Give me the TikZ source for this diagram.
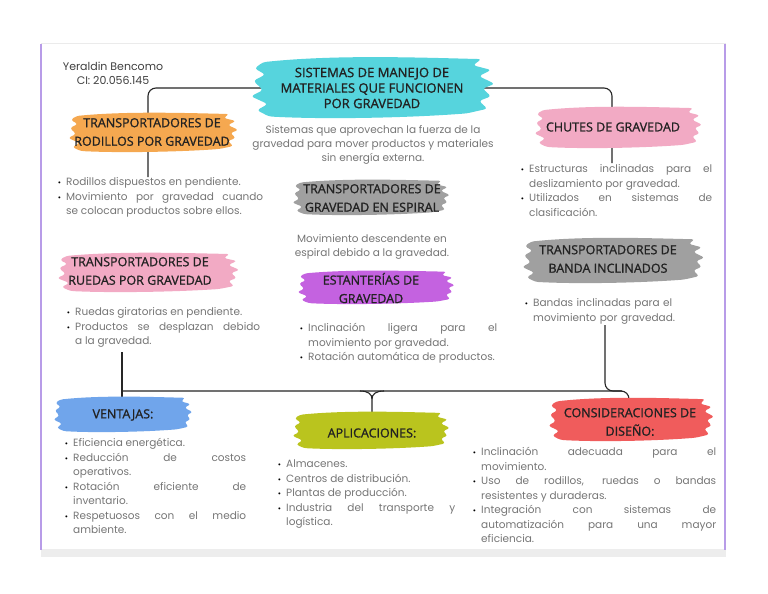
\documentclass[tikz,border=0pt]{standalone}
\usepackage{fontspec}
\setmainfont{Poppins}
\newfontfamily\headfont[BoldFont={Open Sans}, BoldFeatures={FakeBold=1.2}]{Open Sans}
\usepackage{graphicx}
\usepackage{enumitem}
\usetikzlibrary{calc}

\definecolor{titlecol}{RGB}{86,212,221}
\definecolor{rodcol}{RGB}{245,168,80}
\definecolor{pinkcol}{RGB}{242,170,196}
\definecolor{graycol}{RGB}{160,160,160}
\definecolor{purplecol}{RGB}{196,98,224}
\definecolor{bluecol}{RGB}{112,165,235}
\definecolor{olivecol}{RGB}{186,196,30}
\definecolor{redcol}{RGB}{240,92,92}
\definecolor{framecol}{RGB}{184,156,232}
\definecolor{headtxt}{RGB}{34,34,34}
\definecolor{bodytxt}{RGB}{118,118,118}

\setlist[itemize]{nosep,leftmargin=11pt,labelsep=5pt,label={\color{black}\scalebox{0.75}{\textbullet}}}

\pgfdeclarelayer{lines}
\pgfdeclarelayer{paint}
\pgfsetlayers{lines,paint,main}

\tikzset{
	heading/.style={font=\headfont\bfseries\fontsize{12.5}{18.5}\selectfont, text=headtxt, align=center, inner sep=0pt},
	desc/.style={font=\fontsize{10.5}{14}\selectfont, text=bodytxt, align=center, inner sep=0pt},
	bullets/.style={font=\fontsize{10.5}{14.5}\selectfont, text=bodytxt, align=justify, inner sep=0pt, anchor=north west},
	conn/.style={draw=black!85, line width=1.1pt, rounded corners=8pt},
	brush/.pic={
		\fill[pic actions, rounded corners=3pt] (-0.9,-0.8) .. controls (-0.3,-1.05) and (0.4,-0.95) .. (0.92,-0.9)
			-- (0.85,-0.7) -- (1.0,-0.55) -- (0.9,-0.35) -- (1.03,-0.1) -- (0.93,0.05) -- (1.0,0.3)
			-- (0.9,0.45) -- (0.97,0.7) -- (0.8,0.85)
			.. controls (0.3,1.0) and (-0.4,1.05) .. (-0.85,0.95)
			-- (-0.95,0.75) -- (-0.86,0.55) -- (-1.0,0.3) -- (-0.9,0.1) -- (-0.98,-0.2)
			-- (-0.88,-0.4) -- (-0.97,-0.6) -- cycle;
	}
}

\begin{document}
\begin{tikzpicture}[x=1pt, y=-1pt]
	\useasboundingbox (0,0) rectangle (768,594);
	\begin{pgfonlayer}{lines}
		\fill[white] (0,0) rectangle (768,594);
		\fill[black!7] (41,549) rectangle (726,557);
		\draw[black!8, line width=1pt] (41,44) -- (726,44);
		\draw[framecol, line width=1.6pt] (41,44) -- (41,550) (725,44) -- (725,550);
	\end{pgfonlayer}

	% headings and texts
	\node[desc, text=black!75, font=\fontsize{11}{14}\selectfont] (author) at (113,73) {Yeraldin Bencomo\\CI: 20.056.145};
	\node[heading, font=\headfont\bfseries\fontsize{13}{15.5}\selectfont] (title) at (372,88) {SISTEMAS DE MANEJO DE\\MATERIALES QUE FUNCIONEN\\POR GRAVEDAD};
	\node[desc] (titledesc) at (373,145) {Sistemas que aprovechan la fuerza de la\\gravedad para mover productos y materiales\\sin energía externa.};

	\node[heading] (rod) at (152,132) {TRANSPORTADORES DE\\RODILLOS POR GRAVEDAD};
	\node[bullets, text width=208pt] (rodlist) at (55,171) {\begin{itemize}
		\item Rodillos dispuestos en pendiente.
		\item Movimiento por gravedad cuando\linebreak se colocan productos sobre ellos.
	\end{itemize}};

	\node[heading] (chutes) at (613,127) {CHUTES DE GRAVEDAD};
	\node[bullets, text width=194pt] (chuteslist) at (518,158) {\begin{itemize}
		\item Estructuras inclinadas para el\linebreak deslizamiento por gravedad.
		\item Utilizados en sistemas de\linebreak clasificación.
	\end{itemize}};

	\node[heading] (spiral) at (372,198) {TRANSPORTADORES DE\\GRAVEDAD EN ESPIRAL};
	\node[desc] (spiraldesc) at (372,247) {Movimiento descendente en\\espiral debido a la gravedad.};

	\node[heading] (estant) at (371,288) {ESTANTERÍAS DE\\GRAVEDAD};
	\node[bullets, text width=200pt] (estantlist) at (297,317) {\begin{itemize}
		\item Inclinación ligera para el\linebreak movimiento por gravedad.
		\item Rotación automática de productos.
	\end{itemize}};

	\node[heading] (ruedas) at (140,271) {TRANSPORTADORES DE\\RUEDAS POR GRAVEDAD};
	\node[bullets, text width=196pt] (ruedaslist) at (64,301) {\begin{itemize}
		\item Ruedas giratorias en pendiente.
		\item Productos se desplazan debido\linebreak a la gravedad.
	\end{itemize}};

	\node[heading] (banda) at (608,259) {TRANSPORTADORES DE\\BANDA INCLINADOS};
	\node[bullets, text width=180pt, align=center] (bandalist) at (518,292) {\begin{itemize}[leftmargin=15pt]
		\item Bandas inclinadas para el\\movimiento por gravedad.
	\end{itemize}};

	\node[heading] (vent) at (123,415) {VENTAJAS:};
	\node[bullets, text width=184pt] (ventlist) at (62,432) {\begin{itemize}
		\item Eficiencia energética.
		\item Reducción de costos\linebreak operativos.
		\item Rotación eficiente de\linebreak inventario.
		\item Respetuosos con el medio\linebreak ambiente.
	\end{itemize}};

	\node[heading] (aplic) at (372,433) {APLICACIONES:};
	\node[bullets, text width=180pt] (aplist) at (275,453) {\begin{itemize}
		\item Almacenes.
		\item Centros de distribución.
		\item Plantas de producción.
		\item Industria del transporte y\linebreak logística.
	\end{itemize}};

	\node[heading] (consid) at (630,422) {CONSIDERACIONES DE\\DISEÑO:};
	\node[bullets, text width=246pt] (conslist) at (470,441) {\begin{itemize}
		\item Inclinación adecuada para el\linebreak movimiento.
		\item Uso de rodillos, ruedas o bandas\linebreak resistentes y duraderas.
		\item Integración con sistemas de\linebreak automatización para una mayor\linebreak eficiencia.
	\end{itemize}};

	% brush strokes
	\begin{pgfonlayer}{paint}
		\pic[fill=titlecol, xscale=120, yscale=31] at ($(title)+(-1,-1)$) {brush};
		\pic[fill=rodcol, xscale=84, yscale=20] at (rod) {brush};
		\pic[fill=pinkcol, xscale=83, yscale=21] at ($(chutes)+(4,0)$) {brush};
		\pic[fill=graycol, xscale=78, yscale=18] at ($(spiral)+(-2,-1)$) {brush};
		\pic[fill=purplecol, xscale=78, yscale=17] at ($(estant)+(4,-1)$) {brush};
		\pic[fill=pinkcol, xscale=90, yscale=20] at ($(ruedas)+(7,1)$) {brush};
		\pic[fill=graycol, xscale=90, yscale=23] at ($(banda)+(4,1)$) {brush};
		\pic[fill=bluecol, xscale=69, yscale=18] at ($(vent)+(-1,-1)$) {brush};
		\pic[fill=olivecol, xscale=78, yscale=19] at ($(aplic)+(-2,-3)$) {brush};
		\pic[fill=redcol, xscale=82, yscale=22] at ($(consid)+(0,-3)$) {brush};
	\end{pgfonlayer}

	% connectors
	\coordinate (rodend) at (148,177);
	\coordinate (chuend) at (612,163);
	\coordinate (ruedend) at (122,352);
	\coordinate (ventop) at (122,402);
	\coordinate (bandend) at (605,325);
	\coordinate (constop) at (629,402);
	\coordinate (brace) at (372,391);
	\coordinate (aptop) at (372,412);
	\begin{pgfonlayer}{lines}
		\draw[conn] (title.center) -| (rodend);
		\draw[conn] (title.center) -| (chuend);
		\draw[conn] (ruedend) -- (ventop);
		\draw[conn] (ruedend |- brace) -| (constop);
		\draw[conn] (bandend) |- ($(brace)+(250,0)$);
		\draw[conn, rounded corners=0pt] ($(brace)+(-12,0)$) .. controls ($(brace)+(-4,0)$) and ($(brace)+(0,3)$) .. ($(brace)+(0,8)$) -- (aptop);
		\draw[conn, rounded corners=0pt] ($(brace)+(12,0)$) .. controls ($(brace)+(4,0)$) and ($(brace)+(0,3)$) .. ($(brace)+(0,8)$);
	\end{pgfonlayer}
\end{tikzpicture}
\end{document}
